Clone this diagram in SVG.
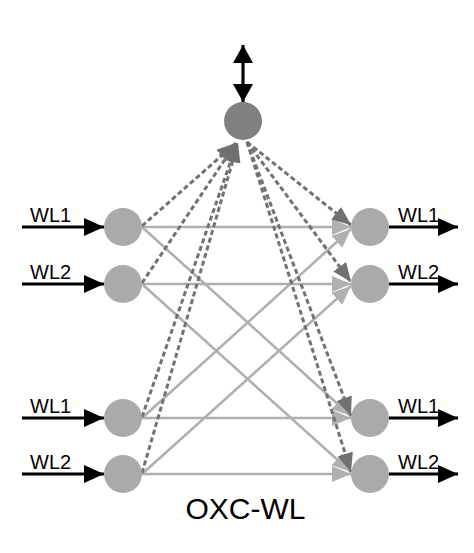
<svg xmlns="http://www.w3.org/2000/svg" width="474" height="553" viewBox="0 0 474 553">
<style>
.node{fill:#aaaaaa}
.hub{fill:#808080}
.solid{stroke:#b0b0b0;stroke-width:2.6;fill:none}
.dash{stroke:#727272;stroke-width:3;stroke-dasharray:5 3;fill:none}
.io{stroke:#000;stroke-width:3.2;fill:none}
.lbl{font-family:"Liberation Sans",Arial,sans-serif;font-size:20px;fill:#000}
.title{font-family:"Liberation Sans",Arial,sans-serif;font-size:30px;fill:#000}
</style>
<defs>
<marker id="ah" markerUnits="userSpaceOnUse" markerWidth="22" markerHeight="20" refX="20" refY="9" orient="auto"><path d="M0,0 L20,9 L0,18 Z" fill="#000"/></marker>
<marker id="ahs" markerUnits="userSpaceOnUse" markerWidth="22" markerHeight="22" refX="18" refY="10" orient="auto-start-reverse"><path d="M0,0 L18,10 L0,20 Z" fill="#000"/></marker>
<marker id="gs" markerUnits="userSpaceOnUse" markerWidth="20" markerHeight="18" refX="19" refY="8" orient="auto"><path d="M0,0 L19,8 L0,16 Z" fill="#b0b0b0"/></marker>
<marker id="gd" markerUnits="userSpaceOnUse" markerWidth="20" markerHeight="18" refX="19" refY="8" orient="auto"><path d="M0,0 L19,8 L0,16 Z" fill="#707070"/></marker>
</defs>
<g id="connectors">
<line class="solid" x1="142" y1="227" x2="351" y2="227" marker-end="url(#gs)"/>
<line class="solid" x1="142" y1="284" x2="351" y2="284" marker-end="url(#gs)"/>
<line class="solid" x1="142" y1="418" x2="351" y2="418" marker-end="url(#gs)"/>
<line class="solid" x1="142" y1="474" x2="351" y2="474" marker-end="url(#gs)"/>
<line class="solid" x1="142" y1="227" x2="351" y2="416" marker-end="url(#gs)"/>
<line class="solid" x1="142" y1="284" x2="351" y2="472" marker-end="url(#gs)"/>
<line class="solid" x1="142" y1="418" x2="351" y2="229" marker-end="url(#gs)"/>
<line class="solid" x1="142" y1="474" x2="351" y2="286" marker-end="url(#gs)"/>
<line class="dash" x1="142" y1="226" x2="236" y2="143" marker-end="url(#gd)"/>
<line class="dash" x1="142" y1="283" x2="236" y2="143" marker-end="url(#gd)"/>
<line class="dash" x1="142" y1="417" x2="237" y2="143" marker-end="url(#gd)"/>
<line class="dash" x1="142" y1="473" x2="238" y2="143" marker-end="url(#gd)"/>
<line class="dash" x1="247" y1="142" x2="351" y2="225" marker-end="url(#gd)"/>
<line class="dash" x1="247" y1="142" x2="351" y2="282" marker-end="url(#gd)"/>
<line class="dash" x1="247" y1="142" x2="351" y2="416" marker-end="url(#gd)"/>
<line class="dash" x1="247" y1="142" x2="351" y2="472" marker-end="url(#gd)"/>
<line class="io" x1="243" y1="45" x2="243" y2="102" marker-start="url(#ahs)" marker-end="url(#ahs)"/>
<line class="io" x1="22" y1="227" x2="104" y2="227" marker-end="url(#ah)"/>
<line class="io" x1="22" y1="284" x2="104" y2="284" marker-end="url(#ah)"/>
<line class="io" x1="22" y1="418" x2="104" y2="418" marker-end="url(#ah)"/>
<line class="io" x1="22" y1="474" x2="104" y2="474" marker-end="url(#ah)"/>
<line class="io" x1="389" y1="227" x2="458" y2="227" marker-end="url(#ah)"/>
<line class="io" x1="389" y1="284" x2="458" y2="284" marker-end="url(#ah)"/>
<line class="io" x1="389" y1="418" x2="458" y2="418" marker-end="url(#ah)"/>
<line class="io" x1="389" y1="474" x2="458" y2="474" marker-end="url(#ah)"/>
</g>
<g id="hub"><circle class="hub" cx="243" cy="121" r="19"/></g>
<g id="in1"><circle class="node" cx="123" cy="227" r="19"/><text class="lbl" x="30" y="222">WL1</text></g>
<g id="in2"><circle class="node" cx="123" cy="284" r="19"/><text class="lbl" x="30" y="279">WL2</text></g>
<g id="in3"><circle class="node" cx="123" cy="418" r="19"/><text class="lbl" x="30" y="413">WL1</text></g>
<g id="in4"><circle class="node" cx="123" cy="474" r="19"/><text class="lbl" x="30" y="469">WL2</text></g>
<g id="out1"><circle class="node" cx="370" cy="227" r="19"/><text class="lbl" x="398" y="222">WL1</text></g>
<g id="out2"><circle class="node" cx="370" cy="284" r="19"/><text class="lbl" x="398" y="279">WL2</text></g>
<g id="out3"><circle class="node" cx="370" cy="418" r="19"/><text class="lbl" x="398" y="413">WL1</text></g>
<g id="out4"><circle class="node" cx="370" cy="474" r="19"/><text class="lbl" x="398" y="469">WL2</text></g>
<text class="title" x="245.5" y="519" text-anchor="middle">OXC-WL</text>
</svg>
